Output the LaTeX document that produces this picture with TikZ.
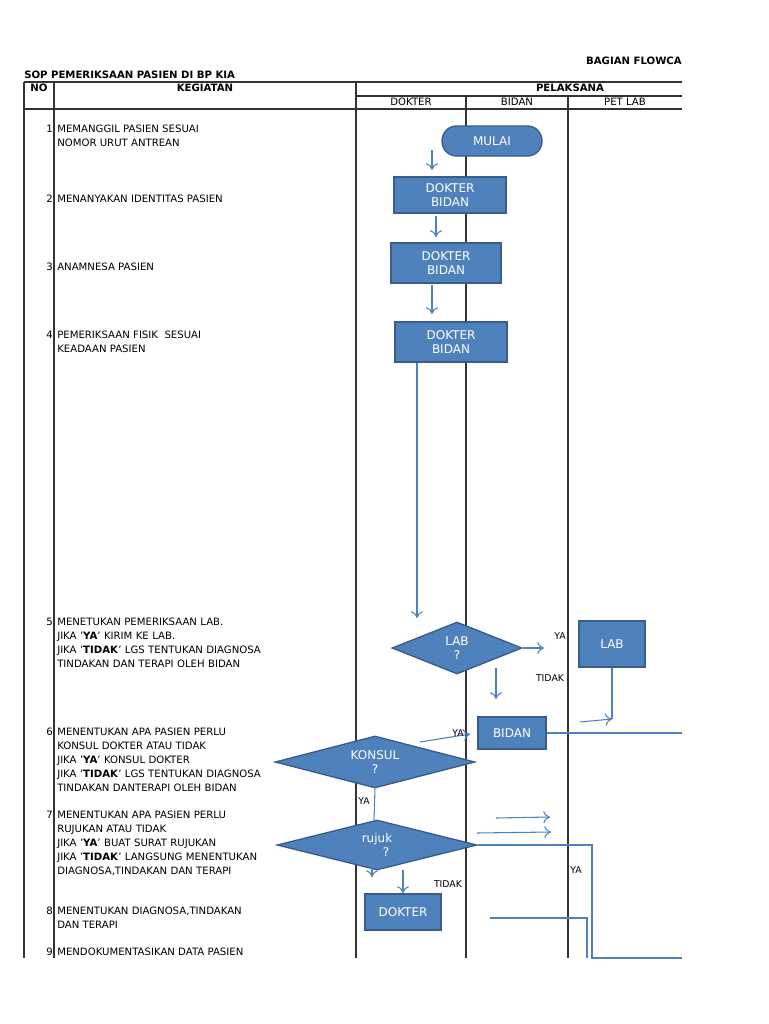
\documentclass[tikz,border=0pt]{standalone}
\usepackage{fontspec}
\setmainfont{DejaVu Sans}
\usetikzlibrary{shapes.geometric,arrows.meta}
\definecolor{fillb}{RGB}{79,129,189}
\definecolor{edgeb}{RGB}{56,93,138}
\definecolor{linb}{RGB}{79,129,189}
\begin{document}
\begin{tikzpicture}[x=0.75pt,y=-0.75pt,
 grid/.style={line width=0.8pt,black!80},
 txt/.style={font=\fontsize{7.6}{10.5}\selectfont,anchor=west,align=left,inner sep=0pt},
 num/.style={font=\fontsize{7.6}{10.5}\selectfont,anchor=east,inner sep=0pt},
 hdr/.style={font=\fontsize{7.6}{9}\selectfont\bfseries,inner sep=0pt},
 sub/.style={font=\fontsize{7.6}{9}\selectfont,inner sep=0pt},
 lbl/.style={font=\fontsize{7}{8}\selectfont,inner sep=0pt},
 box/.style={draw=edgeb,fill=fillb,line width=1pt,text=white,font=\fontsize{9}{10}\selectfont,align=center,inner sep=0pt},
 dia/.style={box,diamond,aspect=3},
 ar/.style={draw=linb,line width=0.8pt,-{To[length=5pt,width=9pt]}},
 ln/.style={draw=linb,line width=0.8pt}]
\useasboundingbox (0,0) rectangle (768,1024);
% titles
\node[hdr,anchor=east] (bag) at (682,61) {BAGIAN FLOWCA};
\node[hdr,anchor=west] (sop) at (24,75) {SOP PEMERIKSAAN PASIEN DI BP KIA};
% table lines
\draw[grid] (24,82) -- (682,82);
\draw[grid] (356,96) -- (682,96);
\draw[grid] (24,109) -- (682,109);
\draw[grid] (24,82) -- (24,958);
\draw[grid] (54,82) -- (54,958);
\draw[grid] (356,82) -- (356,958);
\draw[grid] (466,96) -- (466,958);
\draw[grid] (568,96) -- (568,958);
\node[hdr] (hno) at (39,88) {NO};
\node[hdr] (hkeg) at (205,88) {KEGIATAN};
\node[hdr] (hpel) at (570,88) {PELAKSANA};
\node[sub] (hdok) at (411,102) {DOKTER};
\node[sub] (hbid) at (517,102) {BIDAN};
\node[sub] (hlab) at (625,102) {PET LAB};
% rows
\node[num] (n1) at (53,129) {1}; \node[txt,anchor=north west] (t1) at (57,124.5) {MEMANGGIL PASIEN SESUAI\\NOMOR URUT ANTREAN};
\node[num] (n2) at (53,199) {2}; \node[txt] (t2) at (57,199) {MENANYAKAN IDENTITAS PASIEN};
\node[num] (n3) at (53,267) {3}; \node[txt] (t3) at (57,267) {ANAMNESA PASIEN};
\node[num] (n4) at (53,335) {4}; \node[txt,anchor=north west] (t4) at (57,330.5) {PEMERIKSAAN FISIK\ \ SESUAI\\KEADAAN PASIEN};
\node[num] (n5) at (53,622) {5}; \node[txt,anchor=north west,text width=250pt] (t5) at (57,617.5) {MENETUKAN PEMERIKSAAN LAB.\\JIKA '\textbf{YA}' KIRIM KE LAB.\\JIKA '\textbf{TIDAK}' LGS TENTUKAN DIAGNOSA\\TINDAKAN DAN TERAPI OLEH BIDAN};
\node[num] (n6) at (53,732) {6}; \node[txt,anchor=north west,text width=250pt] (t6) at (57,727.5) {MENENTUKAN APA PASIEN PERLU\\KONSUL DOKTER ATAU TIDAK\\JIKA '\textbf{YA}' KONSUL DOKTER\\JIKA '\textbf{TIDAK}' LGS TENTUKAN DIAGNOSA\\TINDAKAN DANTERAPI OLEH BIDAN};
\node[num] (n7) at (53,815) {7}; \node[txt,anchor=north west,text width=250pt] (t7) at (57,810.5) {MENENTUKAN APA PASIEN PERLU\\RUJUKAN ATAU TIDAK\\JIKA '\textbf{YA}' BUAT SURAT RUJUKAN\\JIKA '\textbf{TIDAK}' LANGSUNG MENENTUKAN\\DIAGNOSA,TINDAKAN DAN TERAPI};
\node[num] (n8) at (53,911) {8}; \node[txt,anchor=north west] (t8) at (57,906.5) {MENENTUKAN DIAGNOSA,TINDAKAN\\DAN TERAPI};
\node[num] (n9) at (53,952) {9}; \node[txt] (t9) at (57,952) {MENDOKUMENTASIKAN DATA PASIEN};
% shapes
\node[box,rounded corners=11pt,minimum width=100*0.75pt,minimum height=30*0.75pt] (mulai) at (492,141) {MULAI};
\node[box,minimum width=112*0.75pt,minimum height=36*0.75pt] (db1) at (450,195) {DOKTER\\BIDAN};
\node[box,minimum width=110*0.75pt,minimum height=40*0.75pt] (db2) at (446,263) {DOKTER\\BIDAN};
\node[box,minimum width=112*0.75pt,minimum height=40*0.75pt] (db3) at (451,342) {DOKTER\\BIDAN};
\node[dia,minimum width=130*0.75pt,minimum height=52*0.75pt] (labq) at (457,648) {LAB\\?};
\node[box,minimum width=66*0.75pt,minimum height=46*0.75pt] (lab) at (612,644) {LAB};
\node[box,minimum width=68*0.75pt,minimum height=32*0.75pt] (bidan) at (512,733) {BIDAN};
\node[dia,minimum width=200*0.75pt,minimum height=52*0.75pt] (konsul) at (375,762) {KONSUL\\?};
\node[dia,minimum width=200*0.75pt,minimum height=50*0.75pt] (rujuk) at (377,845) {rujuk\hspace{1.5em}\\\hspace{1.5em}?};
\node[box,minimum width=76*0.75pt,minimum height=36*0.75pt] (dokter) at (403,912) {DOKTER};
% coordinates
\coordinate (a1s) at (432,150); \coordinate (a1e) at (432,170);
\coordinate (a2s) at (436,216); \coordinate (a2e) at (436,237);
\coordinate (a3s) at (432,285); \coordinate (a3e) at (432,314);
\coordinate (a4s) at (417,363); \coordinate (a4e) at (417,618);
\coordinate (a5e) at (544,648);
\coordinate (a6s) at (496,668); \coordinate (a6e) at (496,699);
\coordinate (lb1) at (612,719);
\coordinate (a7s) at (580,722);
\coordinate (a8s) at (420,742); \coordinate (a8e) at (470,734);
\coordinate (bend) at (682,733);
\coordinate (a9s) at (496,818); \coordinate (a9e) at (550,817);
\coordinate (a10s) at (477,833); \coordinate (a10e) at (551,832);
\coordinate (r1) at (592,845); \coordinate (r2) at (592,958); \coordinate (r3) at (682,958);
\coordinate (d1) at (490,918); \coordinate (d2) at (587,918); \coordinate (d3) at (587,958);
\coordinate (k1) at (374,820);
\coordinate (a11s) at (372,866); \coordinate (a11e) at (372,877);
\coordinate (a12s) at (403,870); \coordinate (a12e) at (403,893);
% connectors
\draw[ar] (a1s) -- (a1e);
\draw[ar] (a2s) -- (a2e);
\draw[ar] (a3s) -- (a3e);
\draw[ar] (a4s) -- (a4e);
\draw[ar] (labq.east) -- (a5e);
\draw[ar] (a6s) -- (a6e);
\draw[ln] (lab.south) -- (lb1);
\draw[ar] (a7s) -- (lb1);
\draw[ar] (a8s) -- (a8e);
\draw[ln] (bidan.east) -- (bend);
\draw[ln] (konsul.south) -- (k1);
\draw[ar] (a9s) -- (a9e);
\draw[ar] (a10s) -- (a10e);
\draw[ln] (rujuk.east) -- (r1) -- (r2) -- (r3);
\draw[ln] (d1) -- (d2) -- (d3);
\draw[ar] (a11s) -- (a11e);
\draw[ar] (a12s) -- (a12e);
% labels
\node[lbl] (ya1) at (560,636) {YA};
\node[lbl] (td1) at (550,678) {TIDAK};
\node[lbl] (ya2) at (458,733) {YA};
\node[lbl] (ya3) at (364,801) {YA};
\node[lbl] (td2) at (448,884) {TIDAK};
\node[lbl] (ya4) at (576,870) {YA};
\end{tikzpicture}
\end{document}
